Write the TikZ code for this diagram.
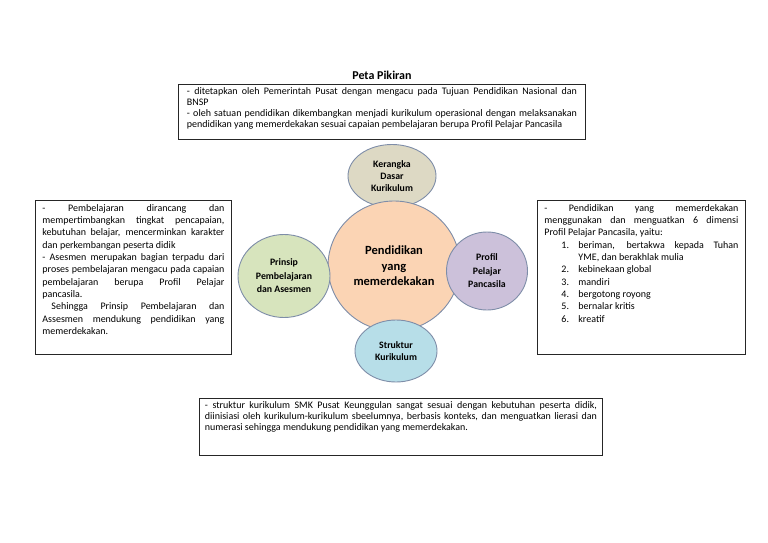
\documentclass[tikz,border=0pt]{standalone}
\usepackage{fontspec}
\setmainfont{Carlito}
\usetikzlibrary{shapes.geometric, positioning}

\definecolor{rimline}{HTML}{7E8DA8}
\definecolor{peachfill}{HTML}{FBD4B4}
\definecolor{tanfill}{HTML}{DDD9C4}
\definecolor{greenfill}{HTML}{D7E4BD}
\definecolor{purplefill}{HTML}{CCC1DA}
\definecolor{bluefill}{HTML}{B7DEE8}

\newcommand{\listnum}[1]{\noindent\llap{\makebox[17pt][l]{#1}}}

\begin{document}
\begin{tikzpicture}[
  x=1pt, y=-1pt,
  notebox/.style={draw=black!85, fill=white, line width=0.9pt, anchor=north west,
    inner ysep=3pt, font=\fontsize{10}{11}\selectfont},
  sidebox/.style={notebox, inner xsep=7pt, inner ysep=4pt, font=\fontsize{10}{12.3}\selectfont},
  bubble/.style={ellipse, draw=rimline, line width=0.9pt, align=center, inner sep=0pt,
    font=\fontsize{9.8}{13.5}\selectfont\bfseries},
]
  \useasboundingbox (0,0) rectangle (768,543);

  % title and top box
  \node[notebox, inner xsep=8.5pt] (topbox) at (178,84)
    {\parbox[c][49pt][t]{390pt}{- ditetapkan oleh Pemerintah Pusat dengan mengacu pada Tujuan Pendidikan Nasional dan\linebreak BNSP\par
    - oleh satuan pendidikan dikembangkan menjadi kurikulum operasional dengan melaksanakan\linebreak pendidikan yang memerdekakan sesuai capaian pembelajaran berupa Profil Pelajar Pancasila}};
  \node[font=\fontsize{12}{13}\selectfont\bfseries, above=1pt of topbox] (title) {Peta Pikiran};

  % side boxes
  \node[sidebox] (leftbox) at (35,200)
    {\parbox[c][146pt][t]{182pt}{- \hfill Pembelajaran \hfill dirancang \hfill dan\linebreak mempertimbangkan tingkat pencapaian,\linebreak kebutuhan belajar, mencerminkan karakter\linebreak dan perkembangan peserta didik\par
    - Asesmen merupakan bagian terpadu dari\linebreak proses pembelajaran mengacu pada capaian\linebreak pembelajaran berupa Profil Pelajar\linebreak pancasila.\par
    \hspace*{9pt}Sehingga Prinsip Pembelajaran dan\linebreak Assesmen mendukung pendidikan yang\linebreak memerdekakan.}};

  \node[sidebox] (rightbox) at (537,200)
    {\parbox[c][146pt][t]{194pt}{- \hfill Pendidikan \hfill yang \hfill memerdekakan\linebreak menggunakan dan menguatkan 6 dimensi\linebreak Profil Pelajar Pancasila, yaitu:\par
    {\leftskip=34pt
    \listnum{1.}beriman, bertakwa kepada Tuhan\linebreak YME, dan berakhlak mulia\par
    \listnum{2.}kebinekaan global\par
    \listnum{3.}mandiri\par
    \listnum{4.}bergotong royong\par
    \listnum{5.}bernalar kritis\par
    \listnum{6.}kreatif\par}}};

  % bottom box
  \node[notebox, inner xsep=5.5pt, inner ysep=3.5pt] (bottombox) at (199,398)
    {\parbox[c][50pt][t]{392pt}{- struktur kurikulum SMK Pusat Keunggulan sangat sesuai dengan kebutuhan peserta didik,\linebreak diinisiasi oleh kurikulum-kurikulum sbeelumnya, berbasis konteks, dan menguatkan lierasi dan\linebreak numerasi sehingga mendukung pendidikan yang memerdekakan.}};

  % bubbles
  \node[bubble, fill=tanfill, minimum width=88pt, minimum height=63pt,
    font=\fontsize{9.8}{12}\selectfont\bfseries] (kerangka) at (392,176)
    {Kerangka\\Dasar\\Kurikulum};
  \node[bubble, fill=peachfill, minimum width=132pt, minimum height=130pt,
    font=\fontsize{12.5}{15.5}\selectfont\bfseries] (pusat) at (394,266)
    {Pendidikan\\yang\\memerdekakan};
  \node[bubble, fill=greenfill, minimum width=92pt, minimum height=83pt] (prinsip) at (284,276)
    {Prinsip\\Pembelajaran\\dan Asesmen};
  \node[bubble, fill=purplefill, minimum width=81pt, minimum height=78pt] (profil) at (487,271)
    {Profil\\Pelajar\\Pancasila};
  \node[bubble, fill=bluefill, minimum width=82pt, minimum height=62pt,
    font=\fontsize{9.8}{12}\selectfont\bfseries] (struktur) at (396,351)
    {Struktur\\Kurikulum};
\end{tikzpicture}
\end{document}
